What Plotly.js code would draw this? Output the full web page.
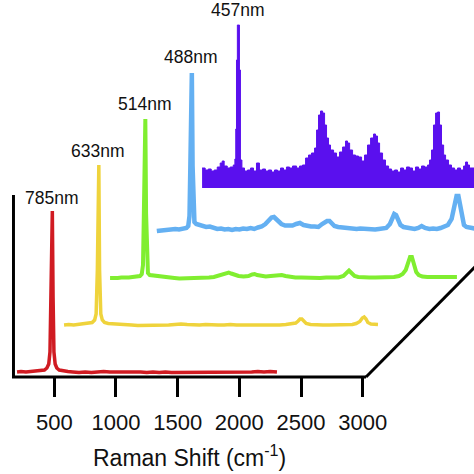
<!DOCTYPE html>
<html>
<head>
<meta charset="utf-8">
<script src="https://cdn.plot.ly/plotly-3.0.1.min.js"></script>
<style>
  html, body { margin: 0; padding: 0; background: #fff; }
  #chart { width: 474px; height: 474px; }
</style>
</head>
<body>
<div id="chart"></div>
<script>
// Raman spectra of one sample at five excitation wavelengths, stacked as a waterfall.
const laserLines = ['785nm', '633nm', '514nm', '488nm', '457nm'];
const lineColors = ['#d01b22', '#efd33c', '#80ee30', '#64b0f2', '#5a10ee'];
const tickValues = [500, 1000, 1500, 2000, 2500, 3000];

// Raman shift (cm-1) and intensity (a.u.) for each excitation line
const shift785 = [198,230,270,310,350,390,420,440,455,465,472,478,484,490,497,507,520,540,570,610,650,700,750,800,850,900,950,1000,1050,1100,1150,1200,1250,1300,1350,1400,1450,1500,1550,1600,1650,1700,1750,1800,1850,1900,1950,2000,2050,2100,2150,2200,2250,2305];
const int785 = [5,5.5,5,5.5,6,6.5,7,9,13,25,80,166,166,80,25,13,9,7,6,5.5,5,4.5,5,4.5,5,5.5,5,5,5.5,5,5.5,5,4.5,5,4.5,5,4.5,4.5,5,4.5,4.5,5,4.5,4.5,5,4.5,4.5,5,4.5,5,5.5,5,5.5,5];

const shift633 = [202,240,280,320,360,400,430,450,462,472,478,484,490,500,512,530,560,600,650,700,750,800,850,900,950,1000,1050,1100,1150,1200,1250,1300,1350,1400,1450,1500,1550,1600,1650,1700,1750,1800,1850,1900,1950,2000,2050,2080,2100,2115,2130,2145,2165,2200,2250,2300,2350,2400,2450,2500,2540,2570,2600,2620,2635,2650,2665,2690,2720,2747];
const int633 = [5,5.5,5,5.5,6,6.5,7.5,10,16,60,165,165,60,16,10,7.5,6.5,6,5.5,5,5,4.5,4.5,4.5,5,5,5,5.5,6,5.5,5,5,5.5,5,5,5,5.5,5,5,4.5,4.5,5,5,5,5,5.5,6,7,9,11,11,9,6.5,5.5,5,5,5,5,5,5,5.5,6.5,8.5,12,13,11,7.5,6,5.5,5.5];

const shift514 = [198,230,260,290,320,350,380,410,440,455,465,472,478,484,490,497,505,520,545,570,600,640,680,720,760,800,840,880,920,960,1000,1040,1080,1110,1140,1160,1180,1210,1240,1280,1320,1350,1370,1390,1420,1460,1500,1530,1560,1590,1620,1660,1700,1750,1800,1850,1900,1950,2000,2050,2090,2115,2135,2155,2180,2210,2250,2300,2350,2400,2450,2500,2540,2570,2595,2615,2630,2645,2660,2680,2700,2730,2770,2820,2870,2920,2970,3010];
const int514 = [5,4.5,5,5.5,5,5.5,6,6,7,9,18,70,164,164,70,18,10,8,7.5,7,6.5,6,5.5,5,4.5,4.5,5,4.5,5,5,5.5,6,7.5,9,10.5,10.5,9.5,8,7,6.5,7,8.5,9,8,7,6.5,7,7.5,8.5,8,7,6,5.5,5.5,5,5.5,5,5.5,5,5.5,7,10,12.5,10,7,6,5.5,5.5,5.5,5.5,5.5,6,7,9,13,20,26,26,19,11,8,6.5,6,6,5.5,6,5.5,6];

const shift488 = [200,230,260,290,320,350,380,410,440,455,465,472,478,484,490,497,505,520,545,570,600,630,660,690,720,750,780,810,840,870,900,930,960,990,1020,1050,1080,1110,1130,1150,1170,1190,1210,1240,1270,1300,1330,1360,1390,1420,1450,1480,1510,1540,1560,1580,1600,1620,1640,1670,1700,1730,1760,1790,1820,1850,1880,1910,1940,1970,2000,2030,2060,2090,2110,2125,2140,2155,2175,2200,2230,2260,2290,2320,2347,2375,2410,2440,2470,2500,2530,2560,2590,2610,2630,2645,2660,2675,2690,2710,2740,2770,2800];
const int488 = [5,5.5,6,6.5,6,7,6.5,7,8,10,20,70,163,163,70,22,14,12,11,10.5,9,9.5,8,7,7.5,6.5,7,6,7,6.5,7.5,7,8,7,8.5,9.5,12,16,18.5,19,17,14,12,10.5,10,10.5,12,13,11,10,9.5,9.5,9,12,14,15,15,13,10,9,8.5,8,8,7.5,7,7.5,7,6.5,7,6.5,7,7.5,8,12,17,22,21,16,11,9,8,7.5,7,8,10,8,7,7.5,7,8,9,11,17,28,40,40,28,16,11,9,8,7.5,7];

const shift457 = [190,215,240,264,288,313,337,353,369,394,418,443,456,463,469,476,485,493,501,513,534,558,583,607,631,643,655,680,704,728,753,777,801,826,850,874,899,923,956,980,1004,1029,1053,1077,1102,1118,1134,1150,1167,1183,1199,1215,1231,1256,1280,1304,1329,1353,1369,1386,1410,1434,1458,1483,1507,1531,1556,1580,1596,1612,1629,1653,1677,1702,1726,1750,1774,1799,1823,1847,1872,1896,1920,1945,1969,1993,2018,2034,2050,2066,2083,2099,2115,2131,2148,2164,2188,2212,2237,2261,2285,2310,2326,2342,2358,2407,2450,2500];
const int457 = [21,19,20,18,19,22,26,28,23,21,22,24,30,60,129,164,164,119,29,21,18,19,21,18,26,26,19,20,18,19,17,19,18,21,19,22,21,23,21,23,24,31,34,36,41,59,74,78,76,64,51,44,39,36,32,37,42,48,46,39,34,33,32,28,34,44,51,55,53,46,36,29,23,20,18,19,17,21,19,22,21,18,22,20,23,22,24,29,39,64,76,77,64,44,34,29,24,21,19,21,19,23,27,24,21,20,22,20];
const floor457 = 1;          // level the 457 nm trace is filled down to

const siPeakShift = 481;     // label anchor: the strong peak shared by all spectra
const labelHeight = 179;

// Waterfall geometry: each spectrum is pushed back along the depth direction
const SHIFT_STEP = 377;
const INTENSITY_STEP = 47;

const spectra = [
  [shift785, int785],
  [shift633, int633],
  [shift514, int514],
  [shift488, int488],
  [shift457, int457]
];
const lineWidths = [3.5, 3.5, 4, 4.5, 1];

const traces = [];
spectra.forEach(([s, v], k) => {
  const xs = s.map(x => x + k * SHIFT_STEP);
  const ys = v.map(y => y + k * INTENSITY_STEP);
  const isFilled = k === 4;
  if (isFilled) {
    traces.push({
      x: [xs[0], xs[xs.length - 1]],
      y: [floor457 + k * INTENSITY_STEP, floor457 + k * INTENSITY_STEP],
      mode: 'lines', line: {width: 0, color: lineColors[k]},
      hoverinfo: 'skip', showlegend: false
    });
  }
  traces.push({
    x: xs, y: ys, mode: 'lines', name: laserLines[k],
    line: {color: lineColors[k], width: lineWidths[k], shape: isFilled ? 'hv' : 'linear'},
    fill: isFilled ? 'tonexty' : 'none',
    fillcolor: lineColors[k],
    showlegend: false
  });
});

const fontFamily = 'Arial, "Liberation Sans", sans-serif';

const annotations = laserLines.map((name, k) => ({
  x: siPeakShift + k * SHIFT_STEP,
  y: labelHeight + k * INTENSITY_STEP,
  xref: 'x', yref: 'y',
  text: name, showarrow: false,
  xanchor: 'center', yanchor: 'middle',
  font: {family: fontFamily, size: 17.5, color: '#111'}
}));
annotations.push({
  x: 1600, y: -0.1875, xref: 'x', yref: 'paper',
  text: 'Raman Shift (cm<sup>-1</sup>)', showarrow: false,
  xanchor: 'center', yanchor: 'middle',
  font: {family: fontFamily, size: 23, color: '#111'}
});

// Frame: floor edge, back wall edge and the receding depth edge
const frameLeft = 157, frameWall = 169, frameRight = 3027, frameTop = 182;
const depthSteps = 3;
const shapes = [
  {type: 'line', xref: 'x', yref: 'y', x0: frameLeft, x1: frameRight, y0: 0, y1: 0,
   line: {color: '#000', width: 3}},
  {type: 'line', xref: 'x', yref: 'y', x0: frameWall, x1: frameWall, y0: 0, y1: frameTop,
   line: {color: '#000', width: 3}},
  {type: 'line', xref: 'x', yref: 'y', x0: frameRight, y0: 0,
   x1: frameRight + depthSteps * SHIFT_STEP, y1: depthSteps * INTENSITY_STEP,
   line: {color: '#000', width: 3}}
];

const layout = {
  width: 474, height: 474,
  margin: {l: 0, r: 0, t: 0, b: 90},
  paper_bgcolor: '#fff', plot_bgcolor: '#fff',
  showlegend: false,
  xaxis: {
    range: [59.8, 3902.4],
    anchor: 'free', position: 7 / 384,
    tickvals: tickValues, ticktext: tickValues.map(String),
    ticks: 'outside', ticklen: 19, tickwidth: 3, tickcolor: '#000',
    ticklabelstandoff: 7,
    showline: false, showgrid: false, zeroline: false,
    tickfont: {family: fontFamily, size: 22, color: '#111'}
  },
  yaxis: {range: [-7, 377], visible: false, showgrid: false, zeroline: false},
  annotations: annotations,
  shapes: shapes
};

Plotly.newPlot('chart', traces, layout, {displayModeBar: false, staticPlot: true});
</script>
</body>
</html>
